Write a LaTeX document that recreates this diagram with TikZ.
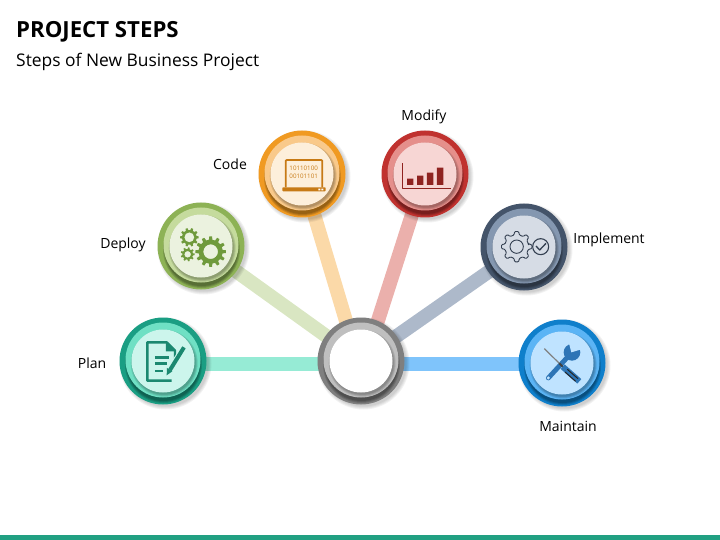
\documentclass[tikz,border=0pt]{standalone}
\usepackage{fontspec}
\setmainfont{Open Sans}
\pgfdeclarelayer{bars}
\pgfsetlayers{bars,main}
\tikzset{
  barline/.style={line width=14pt,line cap=butt},
  lab/.style={font=\fontsize{14}{16}\selectfont,text=black,inner sep=0pt},
  disc/.style={circle,inner sep=0pt,minimum size=87pt,fill=#1},
}
\definecolor{bPlan}{HTML}{96EBD5}
\definecolor{bDeploy}{HTML}{D9E6C2}
\definecolor{bCode}{HTML}{FBD9A8}
\definecolor{bModify}{HTML}{EBB0AC}
\definecolor{bImpl}{HTML}{ADB9CA}
\definecolor{bMaint}{HTML}{7FC4FB}
\definecolor{iPlan}{HTML}{1B8870}
\definecolor{iDeploy}{HTML}{6F9A3C}
\definecolor{iCode}{HTML}{C77A15}
\definecolor{iModify}{HTML}{8F2320}
\definecolor{iImpl}{HTML}{333F50}
\definecolor{iMaint}{HTML}{2E75B6}
\definecolor{dPlan}{HTML}{1A9E83}
\definecolor{mPlan}{HTML}{6FE0C4}
\definecolor{pPlan}{HTML}{CCF5EC}
\definecolor{dDeploy}{HTML}{8DB255}
\definecolor{mDeploy}{HTML}{C5DB9D}
\definecolor{pDeploy}{HTML}{EBF2DF}
\definecolor{dCode}{HTML}{F09A22}
\definecolor{mCode}{HTML}{F9C98A}
\definecolor{pCode}{HTML}{FDEFDB}
\definecolor{dModify}{HTML}{C0322F}
\definecolor{mModify}{HTML}{E58F8B}
\definecolor{pModify}{HTML}{F7D6D4}
\definecolor{dImpl}{HTML}{44546A}
\definecolor{mImpl}{HTML}{8497B0}
\definecolor{pImpl}{HTML}{D6DCE5}
\definecolor{dMaint}{HTML}{0F7FCB}
\definecolor{mMaint}{HTML}{5BB4F5}
\definecolor{pMaint}{HTML}{BFE3FF}
\definecolor{dHub}{HTML}{7F7F7F}
\definecolor{mHub}{HTML}{BFBFBF}
\definecolor{band}{HTML}{21A082}
% #1 name #2 x #3 y #4 dark #5 mid #6 pale
\newcommand\stepdisc[6]{
  \foreach \r in {46,45,44,43}{\fill[black,opacity=.05] (#2+2.5,#3+2.5) circle (\r);}
  \node[disc={#4}] (#1) at (#2,#3) {};
  \foreach \r in {38.5,37.5,36.5}{\fill[black,opacity=.14] (#2+.5,#3+3.5) circle (\r);}
  \fill[#5] (#2,#3-1) circle (37.5);
  \foreach \r in {33.5,32.5,31.5}{\fill[black,opacity=.10] (#2+1.2,#3+2.2) circle (\r);}
  \fill[#6] (#2,#3) circle (31.5);
}
% path part of a gear: cx cy ro ri teeth
\newcommand\gearpart[5]{
  ([shift={(#1,#2)}]-14:#4)
  \foreach \i in {1,...,#5}{
    \pgfextra{\pgfmathsetmacro\gs{360/#5}\pgfmathsetmacro\ga{(\i-1)*\gs}}
    -- ([shift={(#1,#2)}]\ga-.28*\gs:#4)
    -- ([shift={(#1,#2)}]\ga-.17*\gs:#3)
    -- ([shift={(#1,#2)}]\ga+.17*\gs:#3)
    -- ([shift={(#1,#2)}]\ga+.28*\gs:#4)
  } -- cycle
}
\begin{document}
\begin{tikzpicture}[x=1pt,y=-1pt,line join=round]
\useasboundingbox (0,0) rectangle (720,540);
% bottom band
\fill[band] (0,534.5) rectangle (720,540);
% title
\node[anchor=base west,inner sep=0pt,font=\bfseries\fontsize{22.2}{26}\selectfont] (title) at (16,38) {PROJECT STEPS};
\node[anchor=base west,inner sep=0pt,font=\fontsize{17.4}{20}\selectfont] (subtitle) at (16,67) {Steps of New Business Project};
% discs
\stepdisc{hub}{361}{361}{dHub}{mHub}{white}
\stepdisc{plan}{163}{361}{dPlan}{mPlan}{pPlan}
\stepdisc{deploy}{201}{246}{dDeploy}{mDeploy}{pDeploy}
\stepdisc{code}{302}{174}{dCode}{mCode}{pCode}
\stepdisc{modify}{425}{174}{dModify}{mModify}{pModify}
\stepdisc{implement}{524}{247}{dImpl}{mImpl}{pImpl}
\stepdisc{maintain}{562}{363}{dMaint}{mMaint}{pMaint}
% connectors
\begin{pgfonlayer}{bars}
\draw[barline,bPlan] ([yshift=-2.5pt]hub.center) -- ([yshift=-2.5pt]plan.center);
\draw[barline,bDeploy] (hub.center) -- (deploy.center);
\draw[barline,bCode] ([xshift=-3pt]hub.center) -- (code.center);
\draw[barline,bModify] ([xshift=4pt]hub.center) -- (modify.center);
\draw[barline,bImpl] (hub.center) -- (implement.center);
\draw[barline,bMaint] ([yshift=-2.5pt]hub.center) -- ([yshift=-.5pt]maintain.center);
\end{pgfonlayer}
% labels
\node[lab] (lplan) at (92,363) {Plan};
\node[lab] (ldeploy) at (123,244.5) {Deploy};
\node[lab] (lcode) at (230,164) {Code};
\node[lab] (lmodify) at (424,116.5) {Modify};
\node[lab] (limpl) at (609,239.5) {Implement};
\node[lab] (lmaint) at (568,426) {Maintain};
% Plan icon
\begin{scope}[shift={(110,310)},x=.3333pt,y=-.3333pt]
  \draw[iPlan,line width=2.4pt] (185,212) -- (112,212) -- (112,97) -- (170,97) -- (195,122) -- (195,150);
  \fill[iPlan] (168,97) -- (195,124) -- (168,124) -- cycle;
  \draw[iPlan,line width=2.6pt] (135,143) -- (178,143) (135,161) -- (170,161) (135,183) -- (158,183);
  \draw[pPlan,line width=6.5pt] (176,186) -- (222,114);
  \draw[iPlan,line width=4pt] (180,180) -- (222,112);
  \fill[iPlan] (170,196) -- (171,174) -- (187,184) -- cycle;
\end{scope}
% Deploy icon
\begin{scope}[shift={(150,195)},x=.3333pt,y=-.3333pt]
  \fill[iDeploy,even odd rule] \gearpart{182}{170}{46}{36}{12} (182,170) circle (22);
  \fill[iDeploy,even odd rule] \gearpart{118}{127}{28}{22}{10} (118,127) circle (15);
  \fill[iDeploy,even odd rule] \gearpart{113}{178}{21}{16}{9} (113,178) circle (10);
\end{scope}
% Code icon
\begin{scope}[shift={(250,125)},x=.3333pt,y=-.3333pt]
  \draw[iCode,line width=1.8pt,rounded corners=1pt] (107,187) -- (107,105) -- (217,105) -- (217,187);
  \fill[iCode,rounded corners=.8pt] (97,187) rectangle (227,199);
  \fill[white] (205,191) rectangle (211,196) (214,191) rectangle (220,196);
  \node[font=\fontsize{6.2}{7.5}\selectfont,text=iCode,align=center,inner sep=0pt] (bits) at (161,143) {10110100\\[.5pt]00101101};
\end{scope}
% Modify icon
\begin{scope}[shift={(372,125)},x=.3333pt,y=-.3333pt]
  \draw[iModify,line width=1pt] (92,115) -- (92,190) -- (237,190);
  \fill[iModify] (105,161) rectangle (124,180) (135,152) rectangle (154,180) (165,143) rectangle (184,180) (195,128) rectangle (214,180);
\end{scope}
% Implement icon
\begin{scope}[shift={(470,195)},x=.3333pt,y=-.3333pt]
  \draw[iImpl,line width=.9pt,rounded corners=1pt] \gearpart{140}{155}{46}{36}{8};
  \draw[iImpl,line width=.9pt] (140,155) circle (20);
  \fill[pImpl] (212,155) circle (27);
  \draw[iImpl,line width=1.1pt] (212,155) circle (24);
  \draw[iImpl,line width=1.3pt] (198,153) -- (209,165) -- (228,145);
\end{scope}
% Maintain icon
\begin{scope}[shift={(510,312)},x=.3333pt,y=-.3333pt]
  \draw[iMaint,line width=4.8pt,line cap=round] (115,198) -- (172,136);
  \fill[iMaint] (186,121) circle (25);
  \fill[pMaint] (184,121) -- (176,90) -- (212,90) -- (214,112) -- cycle;
  \fill[pMaint] (115,198) circle (5);
  \draw[gray,line width=1.2pt] (103,110) -- (152,158);
  \draw[black!75,line width=2pt] (148,154) -- (160,166);
  \draw[iMaint,line width=6pt] (158,164) -- (208,208);
  \draw[black!85,line width=1pt] (172,172) -- (204,200) (165,180) -- (197,208);
\end{scope}
\end{tikzpicture}
\end{document}
